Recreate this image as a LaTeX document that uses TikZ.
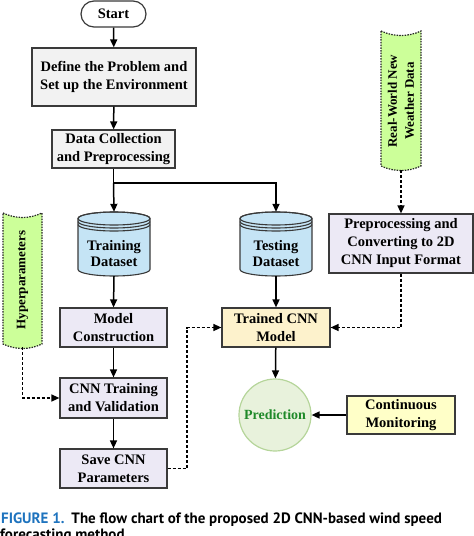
\documentclass[tikz,border=0pt]{standalone}
\usepackage{fontspec}
\setmainfont{Liberation Serif}
\newfontfamily\capfont{PT Sans}
\usetikzlibrary{arrows.meta}
\definecolor{boxgrey}{HTML}{F2F2F2}
\definecolor{lav}{HTML}{ECE9F5}
\definecolor{cyl}{HTML}{C5E4F5}
\definecolor{trn}{HTML}{FDF2CC}
\definecolor{mon}{HTML}{FFFFC8}
\definecolor{predfill}{HTML}{E8F2DC}
\definecolor{predline}{HTML}{B5D59A}
\definecolor{predtext}{HTML}{1F8A2A}
\definecolor{tapegreen}{HTML}{CCFF99}
\definecolor{capblue}{HTML}{1E73BE}
\definecolor{edge}{HTML}{3A3A3A}
\begin{document}
\begin{tikzpicture}[x=1pt,y=-1pt,
  font=\fontsize{14.5}{18}\selectfont\bfseries,
  box/.style={draw=edge, line width=1.2pt, align=center, inner sep=0pt},
  arr/.style={-{Triangle[length=8pt,width=7pt]}, line width=1.5pt},
  darr/.style={-{Triangle[length=8pt,width=7pt]}, line width=1.4pt, dash pattern=on 3pt off 2pt},
  tapeborder/.style={draw=black!85, line width=1.2pt, dash pattern=on 1.5pt off 1.2pt, fill=tapegreen},
  cylborder/.style={draw=edge, line width=1.1pt},
  rottext/.style={rotate=90, align=center, font=\fontsize{13}{17}\selectfont\bfseries},
  captext/.style={anchor=base west, inner sep=0pt, font=\capfont\fontsize{15}{18}\selectfont\bfseries}
]
\useasboundingbox (0,0) rectangle (474,536);
\clip (0,0) rectangle (474,536);

% tapes
\filldraw[tapeborder] (381,31) .. controls (394,37) and (408,37) .. (421,31)
  -- (421,166) .. controls (408,172) and (394,172) .. (381,166) -- cycle;
\filldraw[tapeborder] (3,213) .. controls (16,219) and (29,219) .. (42,213)
  -- (42,344) .. controls (29,350) and (16,350) .. (3,344) -- cycle;

% cylinders
\foreach \cx in {114,276}{
  \filldraw[cylborder, fill=cyl] (\cx-36,218.5) -- (\cx-36,269.5)
     arc[start angle=180, end angle=0, x radius=36, y radius=6.5]
     -- (\cx+36,218.5)
     arc[start angle=0, end angle=-180, x radius=36, y radius=6.5] -- cycle;
  \draw[cylborder] (\cx,218.5) ellipse[x radius=36, y radius=6.5];
  \draw[cylborder] (\cx-36,221.5) arc[start angle=180, end angle=0, x radius=36, y radius=6.5];
  \draw[cylborder] (\cx-36,224.5) arc[start angle=180, end angle=0, x radius=36, y radius=6.5];
}

\node[box, rounded corners=13pt, fill=white, minimum width=65pt, minimum height=26pt] (start) at (113.5,14) {Start};
\node[box, fill=boxgrey, minimum width=164pt, minimum height=58pt] (define) at (114,77) {Define the Problem and\\Set up the Environment};
\node[box, fill=boxgrey, minimum width=123pt, minimum height=38pt] (collect) at (113.5,149) {Data Collection\\and Preprocessing};
\node[inner sep=0pt, minimum width=72pt, minimum height=64pt] (train) at (114,244) {};
\node[align=center, font=\fontsize{14.5}{16}\selectfont\bfseries] (trainlbl) at (114,254) {Training\\Dataset};
\node[inner sep=0pt, minimum width=72pt, minimum height=64pt] (test) at (276,244) {};
\node[align=center, font=\fontsize{14.5}{16}\selectfont\bfseries] (testlbl) at (276,254) {Testing\\Dataset};
\node[box, fill=lav, minimum width=144pt, minimum height=59pt] (prep) at (401,243.5) {Preprocessing and\\Converting to 2D\\CNN Input Format};
\node[inner sep=0pt, minimum width=40pt, minimum height=139pt] (weather) at (401,100.5) {};
\node[rottext] (weatherlbl) at (401,101) {Real-World New\\Weather Data};
\node[inner sep=0pt, minimum width=39pt, minimum height=134pt] (hyper) at (22.5,280) {};
\node[rottext] (hyperlbl) at (22.5,280) {Hyperparameters};
\node[box, fill=lav, minimum width=107pt, minimum height=39pt] (model) at (113.5,327.5) {Model\\Construction};
\node[box, fill=lav, minimum width=107pt, minimum height=40pt] (cnntrain) at (113.5,398) {CNN Training\\and Validation};
\node[box, fill=lav, minimum width=107pt, minimum height=39pt] (save) at (113.5,468.5) {Save CNN\\Parameters};
\node[box, fill=trn, minimum width=108pt, minimum height=39pt] (trained) at (276,327.5) {Trained CNN\\Model};
\node[circle, draw=predline, line width=1.2pt, fill=predfill, minimum size=72pt, inner sep=0pt, text=predtext, font=\fontsize{14}{16}\selectfont\bfseries] (pred) at (275,415) {Prediction};
\node[box, fill=mon, minimum width=108pt, minimum height=38pt] (monitor) at (401,415) {Continuous\\Monitoring};

% connectors
\draw[arr] (start) -- (define);
\draw[arr] (define) -- (collect);
\coordinate (split) at (113.5,183);
\coordinate (splitr) at (276,183);
\draw[line width=1.5pt] (collect.south) -- (split);
\draw[arr] (split) -- (train.north);
\draw[arr] (split) -- (splitr) -- (test.north);
\draw[arr] (train.south) -- (model.north);
\draw[arr] (model) -- (cnntrain);
\draw[arr] (cnntrain) -- (save);
\draw[arr] (test.south) -- (trained.north);
\draw[arr] (trained) -- (pred);
\draw[arr] (monitor) -- (pred);
\draw[darr] (weather.south) -- (prep.north);
\draw[darr] (prep.south) |- (trained.east);
\coordinate (hypcorner) at (22.5,398);
\draw[darr] (hyper.south) -- (hypcorner) -- (cnntrain.west);
\coordinate (saveout) at (187,468.5);
\coordinate (saveup) at (187,327.5);
\draw[darr] (save.east) -- (saveout) -- (saveup) -- (trained.west);

% caption
\node[captext] (cap1) at (1,523)
  {\textcolor{capblue}{FIGURE 1.}\hspace{7pt}The flow chart of the proposed 2D CNN-based wind speed};
\node[captext] (cap2) at (0,539)
  {forecasting method};
\end{tikzpicture}
\end{document}
